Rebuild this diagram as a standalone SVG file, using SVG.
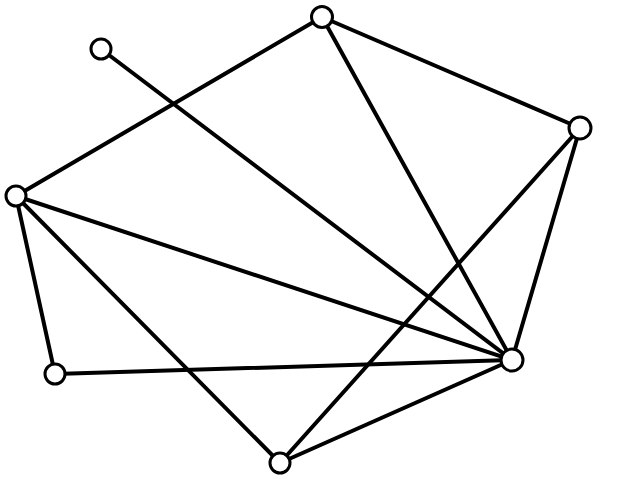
<svg xmlns="http://www.w3.org/2000/svg" width="640" height="480" viewBox="0 0 640 480">
<style>
.e{stroke:#000;stroke-width:4;stroke-linecap:round;fill:none}
.n{fill:#fff;stroke:#000;stroke-width:3}
</style>
<rect width="640" height="480" fill="#fff"/>
<g id="connectors">
<line class="e" x1="322" y1="17" x2="16" y2="196"/>
<line class="e" x1="322" y1="17" x2="580" y2="128"/>
<line class="e" x1="322" y1="17" x2="512" y2="360"/>
<line class="e" x1="101" y1="49" x2="512" y2="360"/>
<line class="e" x1="580" y1="128" x2="512" y2="360"/>
<line class="e" x1="580" y1="128" x2="280" y2="463"/>
<line class="e" x1="16" y1="196" x2="512" y2="360"/>
<line class="e" x1="16" y1="196" x2="55" y2="374"/>
<line class="e" x1="16" y1="196" x2="280" y2="463"/>
<line class="e" x1="55" y1="374" x2="512" y2="360"/>
<line class="e" x1="280" y1="463" x2="512" y2="360"/>
</g>
<g id="nA"><circle class="n" cx="322" cy="17" r="10.5"/></g>
<g id="nB"><circle class="n" cx="101" cy="49" r="10"/></g>
<g id="nC"><circle class="n" cx="580" cy="128" r="11"/></g>
<g id="nD"><circle class="n" cx="16" cy="196" r="10"/></g>
<g id="nE"><circle class="n" cx="55" cy="374" r="10"/></g>
<g id="nF"><circle class="n" cx="512" cy="360" r="11"/></g>
<g id="nG"><circle class="n" cx="280" cy="463" r="10"/></g>
</svg>
